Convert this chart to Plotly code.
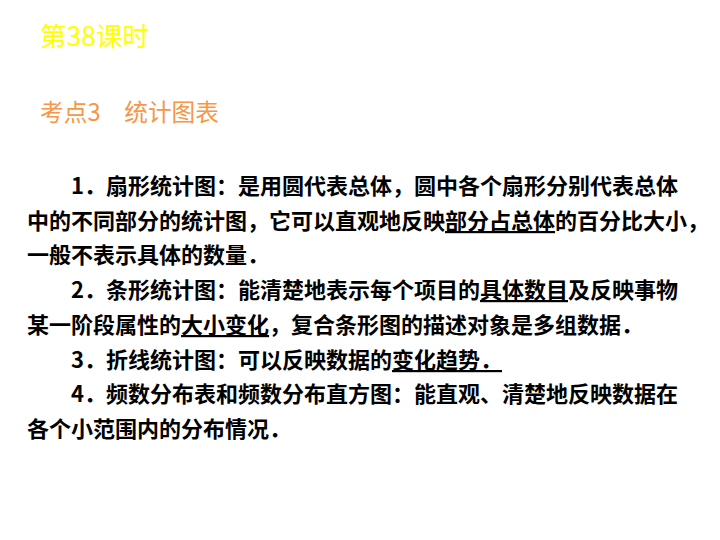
import plotly.graph_objects as go

# slide heading texts
title_text = '第38课时'
section_text = '考点3　统计图表'

# body lines (underlined key phrases marked with <u>)
body_lines = [
    '1．扇形统计图：是用圆代表总体，圆中各个扇形分别代表总体',
    '中的不同部分的统计图，它可以直观地反映<u>部分占总体</u>的百分比大小，',
    '一般不表示具体的数量．',
    '2．条形统计图：能清楚地表示每个项目的<u>具体数目</u>及反映事物',
    '某一阶段属性的<u>大小变化</u>，复合条形图的描述对象是多组数据．',
    '3．折线统计图：可以反映数据的<u>变化趋势．</u>',
    '4．频数分布表和频数分布直方图：能直观、清楚地反映数据在',
    '各个小范围内的分布情况．',
]
# which lines start a new numbered point (indented)
indented = [True, False, False, True, False, True, True, False]

# the page body has an 8px margin (plus annotation padding), shift back
off_x = 10
off_y = 9

fig = go.Figure()

# heading
fig.add_annotation(
    x=40 - off_x, y=35 - off_y, xref='x', yref='y', text=title_text, showarrow=False,
    xanchor='left', yanchor='middle',
    font=dict(family='Noto Sans CJK SC', size=26.5, color='#FFFF00'),
)
fig.add_annotation(
    x=40 - off_x, y=112 - off_y, xref='x', yref='y', text=section_text, showarrow=False,
    xanchor='left', yanchor='middle',
    font=dict(family='Noto Sans CJK SC', size=23.7, color='#F79646'),
)

# body text, one annotation per line
y0 = 185
step = 34.7
for i, line in enumerate(body_lines):
    fig.add_annotation(
        x=(71 if indented[i] else 27) - off_x, y=y0 + i * step - off_y,
        xref='x', yref='y', text='<b>' + line + '</b>', showarrow=False,
        xanchor='left', yanchor='middle',
        font=dict(family='Noto Sans CJK SC', size=22, color='black'),
    )

fig.update_layout(
    width=720, height=540,
    margin=dict(l=0, r=0, t=0, b=0),
    plot_bgcolor='white', paper_bgcolor='white',
    showlegend=False,
    xaxis=dict(range=[0, 720], visible=False, fixedrange=True),
    yaxis=dict(range=[540, 0], visible=False, fixedrange=True),
)

fig.write_html('out.html', config={'displayModeBar': False})
